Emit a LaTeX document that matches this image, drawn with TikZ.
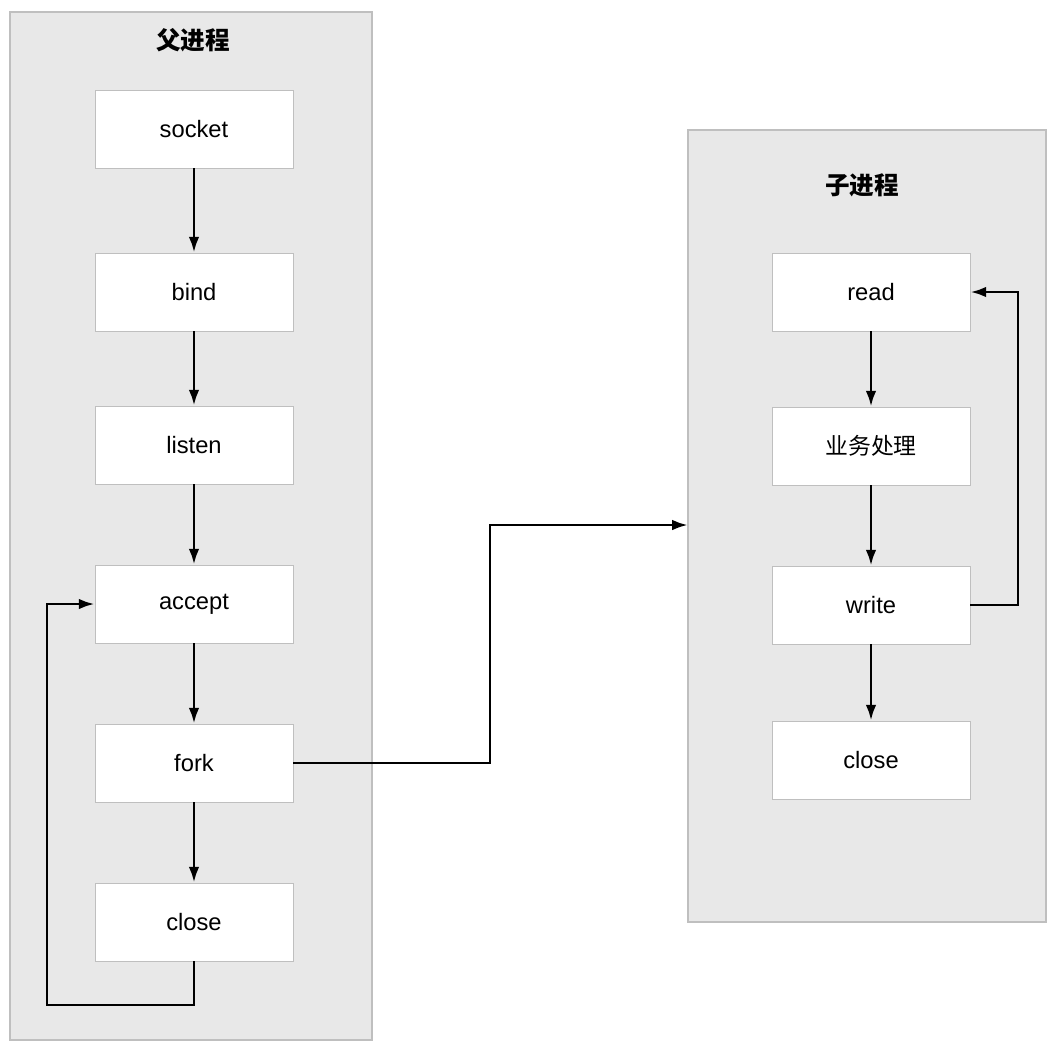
\documentclass[tikz,border=0pt]{standalone}
\usepackage{fontspec}
\setmainfont{Liberation Sans}
\newfontfamily\cjk{Noto Sans CJK SC}
\usetikzlibrary{arrows.meta,positioning}
\tikzstyle{l1}=[line width=1.6]
\tikzstyle{panel}=[draw=black!25, fill=black!9, line width=0.8]
\tikzstyle{step box}=[draw=black!25, fill=white, minimum width=3.96cm, minimum height=1.56cm, font=\fontsize{13.5}{15}\selectfont]
\tikzstyle{flow}=[l1, -{Latex[length=9pt,width=6pt]}]
\begin{document}
\begin{tikzpicture}[x=0.02cm, y=-0.02cm]
    \useasboundingbox (0,0) rectangle (1064,1056);
    \draw[panel] (10,12) rectangle (372,1040);
    \draw[panel] (688,130) rectangle (1046,922);
    \node[font=\cjk\bfseries\fontsize{14}{16}\selectfont] (ptitle) at (193,40) {父进程};
    \node[font=\cjk\bfseries\fontsize{14}{16}\selectfont] (ctitle) at (862,185) {子进程};
    % parent
    \node[step box] (socket) at (194,129) {socket};
    \node[step box] (bind) at (194,292) {bind};
    \node[step box] (listen) at (194,445) {listen};
    \node[step box] (accept) at (194,604) {accept};
    \node[step box] (fork) at (194,763) {fork};
    \node[step box] (pclose) at (194,922) {close};
    % child
    \node[step box] (read) at (871,292) {read};
    \node[step box, font=\cjk\fontsize{13}{15}\selectfont] (work) at (871,446) {业务处理};
    \node[step box] (write) at (871,605) {write};
    \node[step box] (cclose) at (871,760) {close};
    \coordinate (cin) at (688,525);

    \draw[flow] (socket) -- (bind);
    \draw[flow] (bind) -- (listen);
    \draw[flow] (listen) -- (accept);
    \draw[flow] (accept) -- (fork);
    \draw[flow] (fork) -- (pclose);
    \draw[flow] (pclose.south) |- (47,1005) |- (accept.west);
    \draw[flow] (fork.east) -| (490,525) -- (cin);
    \draw[flow] (read) -- (work);
    \draw[flow] (work) -- (write);
    \draw[flow] (write) -- (cclose);
    \draw[flow] (write.east) -| (1018,292) -- (read.east);
\end{tikzpicture}
\end{document}
